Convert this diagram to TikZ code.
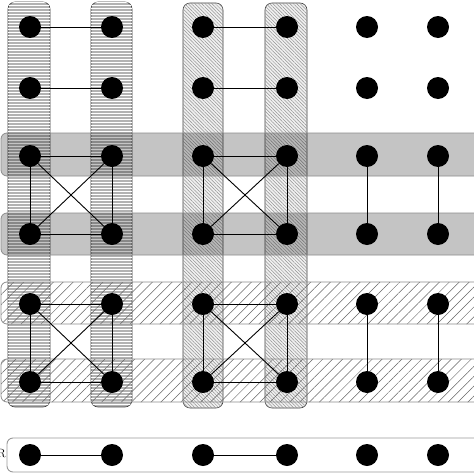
\documentclass[tikz,border=0pt]{standalone}
\usetikzlibrary{patterns,patterns.meta}

\tikzset{
  colband/.style={draw=gray!50!black,line width=0.6pt,rounded corners=7pt},
  stripeband/.style={colband,fill=gray!60,postaction={pattern=horizontal lines,pattern color=white}},
  hatchband/.style={colband,fill=gray!12,postaction={pattern={Lines[angle=-45,distance=2.4pt,line width=0.5pt]},pattern color=gray!85}},
  greyrow/.style={draw=gray!90,line width=0.8pt,rounded corners=6pt,fill=black,fill opacity=0.23},
  lined/.style={draw=gray!90,line width=0.8pt,rounded corners=6pt,pattern={Lines[angle=45,distance=7pt,line width=0.5pt]},pattern color=gray!80!black},
  plainrow/.style={draw=gray!80,line width=0.9pt,rounded corners=6pt,fill=white}
}

\begin{document}
\begin{tikzpicture}[x=1pt,y=-1pt]
  \clip (0,0) rectangle (474,474);

  % column groups
  \draw[stripeband] (8,2) rectangle (50,407);
  \draw[stripeband] (91,2) rectangle (132,407);
  \draw[hatchband] (183,3) rectangle (223,408);
  \draw[hatchband] (265,3) rectangle (307,408);

  % row groups
  \draw[greyrow] (1,133) rectangle (490,176);
  \draw[greyrow] (1,213) rectangle (490,255);
  \draw[lined] (1,282) rectangle (490,324);
  \draw[lined] (1,359) rectangle (490,402);
  \draw[plainrow] (7,438) rectangle (490,472);
  \node[anchor=east,inner sep=0pt,font=\large] (rlabel) at (6,454) {R};

  \begin{scope}[every node/.style={circle,fill,inner sep=0pt,minimum size=22pt}]
    \node (a1) at (30,27)  {};
    \node (b1) at (112,27) {};
    \node (c1) at (203,27) {};
    \node (d1) at (287,27) {};
    \node (e1) at (367,27) {};
    \node (f1) at (438,27) {};
    \node (a2) at (30,88)  {};
    \node (b2) at (112,88) {};
    \node (c2) at (203,88) {};
    \node (d2) at (287,88) {};
    \node (e2) at (367,88) {};
    \node (f2) at (438,88) {};
    \node (a3) at (30,156)  {};
    \node (b3) at (112,156) {};
    \node (c3) at (203,156) {};
    \node (d3) at (287,156) {};
    \node (e3) at (367,156) {};
    \node (f3) at (438,156) {};
    \node (a4) at (30,234)  {};
    \node (b4) at (112,234) {};
    \node (c4) at (203,234) {};
    \node (d4) at (287,234) {};
    \node (e4) at (367,234) {};
    \node (f4) at (438,234) {};
    \node (a5) at (30,304)  {};
    \node (b5) at (112,304) {};
    \node (c5) at (203,304) {};
    \node (d5) at (287,304) {};
    \node (e5) at (367,304) {};
    \node (f5) at (438,304) {};
    \node (a6) at (30,382)  {};
    \node (b6) at (112,382) {};
    \node (c6) at (203,382) {};
    \node (d6) at (287,382) {};
    \node (e6) at (367,382) {};
    \node (f6) at (438,382) {};
    \node (a7) at (30,455)  {};
    \node (b7) at (112,455) {};
    \node (c7) at (203,455) {};
    \node (d7) at (287,455) {};
    \node (e7) at (367,455) {};
    \node (f7) at (438,455) {};
  \end{scope}

  \begin{scope}[every edge/.style={draw,line width=0.9pt}]
    \path (a1) edge (b1);
    \path (c1) edge (d1);
    \path (a2) edge (b2);
    \path (c2) edge (d2);
    \path (a3) edge (b3);
    \path (a4) edge (b4);
    \path (a3) edge (a4);
    \path (b3) edge (b4);
    \path (a3) edge (b4);
    \path (b3) edge (a4);
    \path (c3) edge (d3);
    \path (c4) edge (d4);
    \path (c3) edge (c4);
    \path (d3) edge (d4);
    \path (c3) edge (d4);
    \path (d3) edge (c4);
    \path (e3) edge (e4);
    \path (f3) edge (f4);
    \path (a5) edge (b5);
    \path (a6) edge (b6);
    \path (a5) edge (a6);
    \path (b5) edge (b6);
    \path (a5) edge (b6);
    \path (b5) edge (a6);
    \path (c5) edge (d5);
    \path (c6) edge (d6);
    \path (c5) edge (c6);
    \path (d5) edge (d6);
    \path (c5) edge (d6);
    \path (d5) edge (c6);
    \path (e5) edge (e6);
    \path (f5) edge (f6);
    \path (a7) edge (b7);
    \path (c7) edge (d7);
  \end{scope}

\end{tikzpicture}
\end{document}
